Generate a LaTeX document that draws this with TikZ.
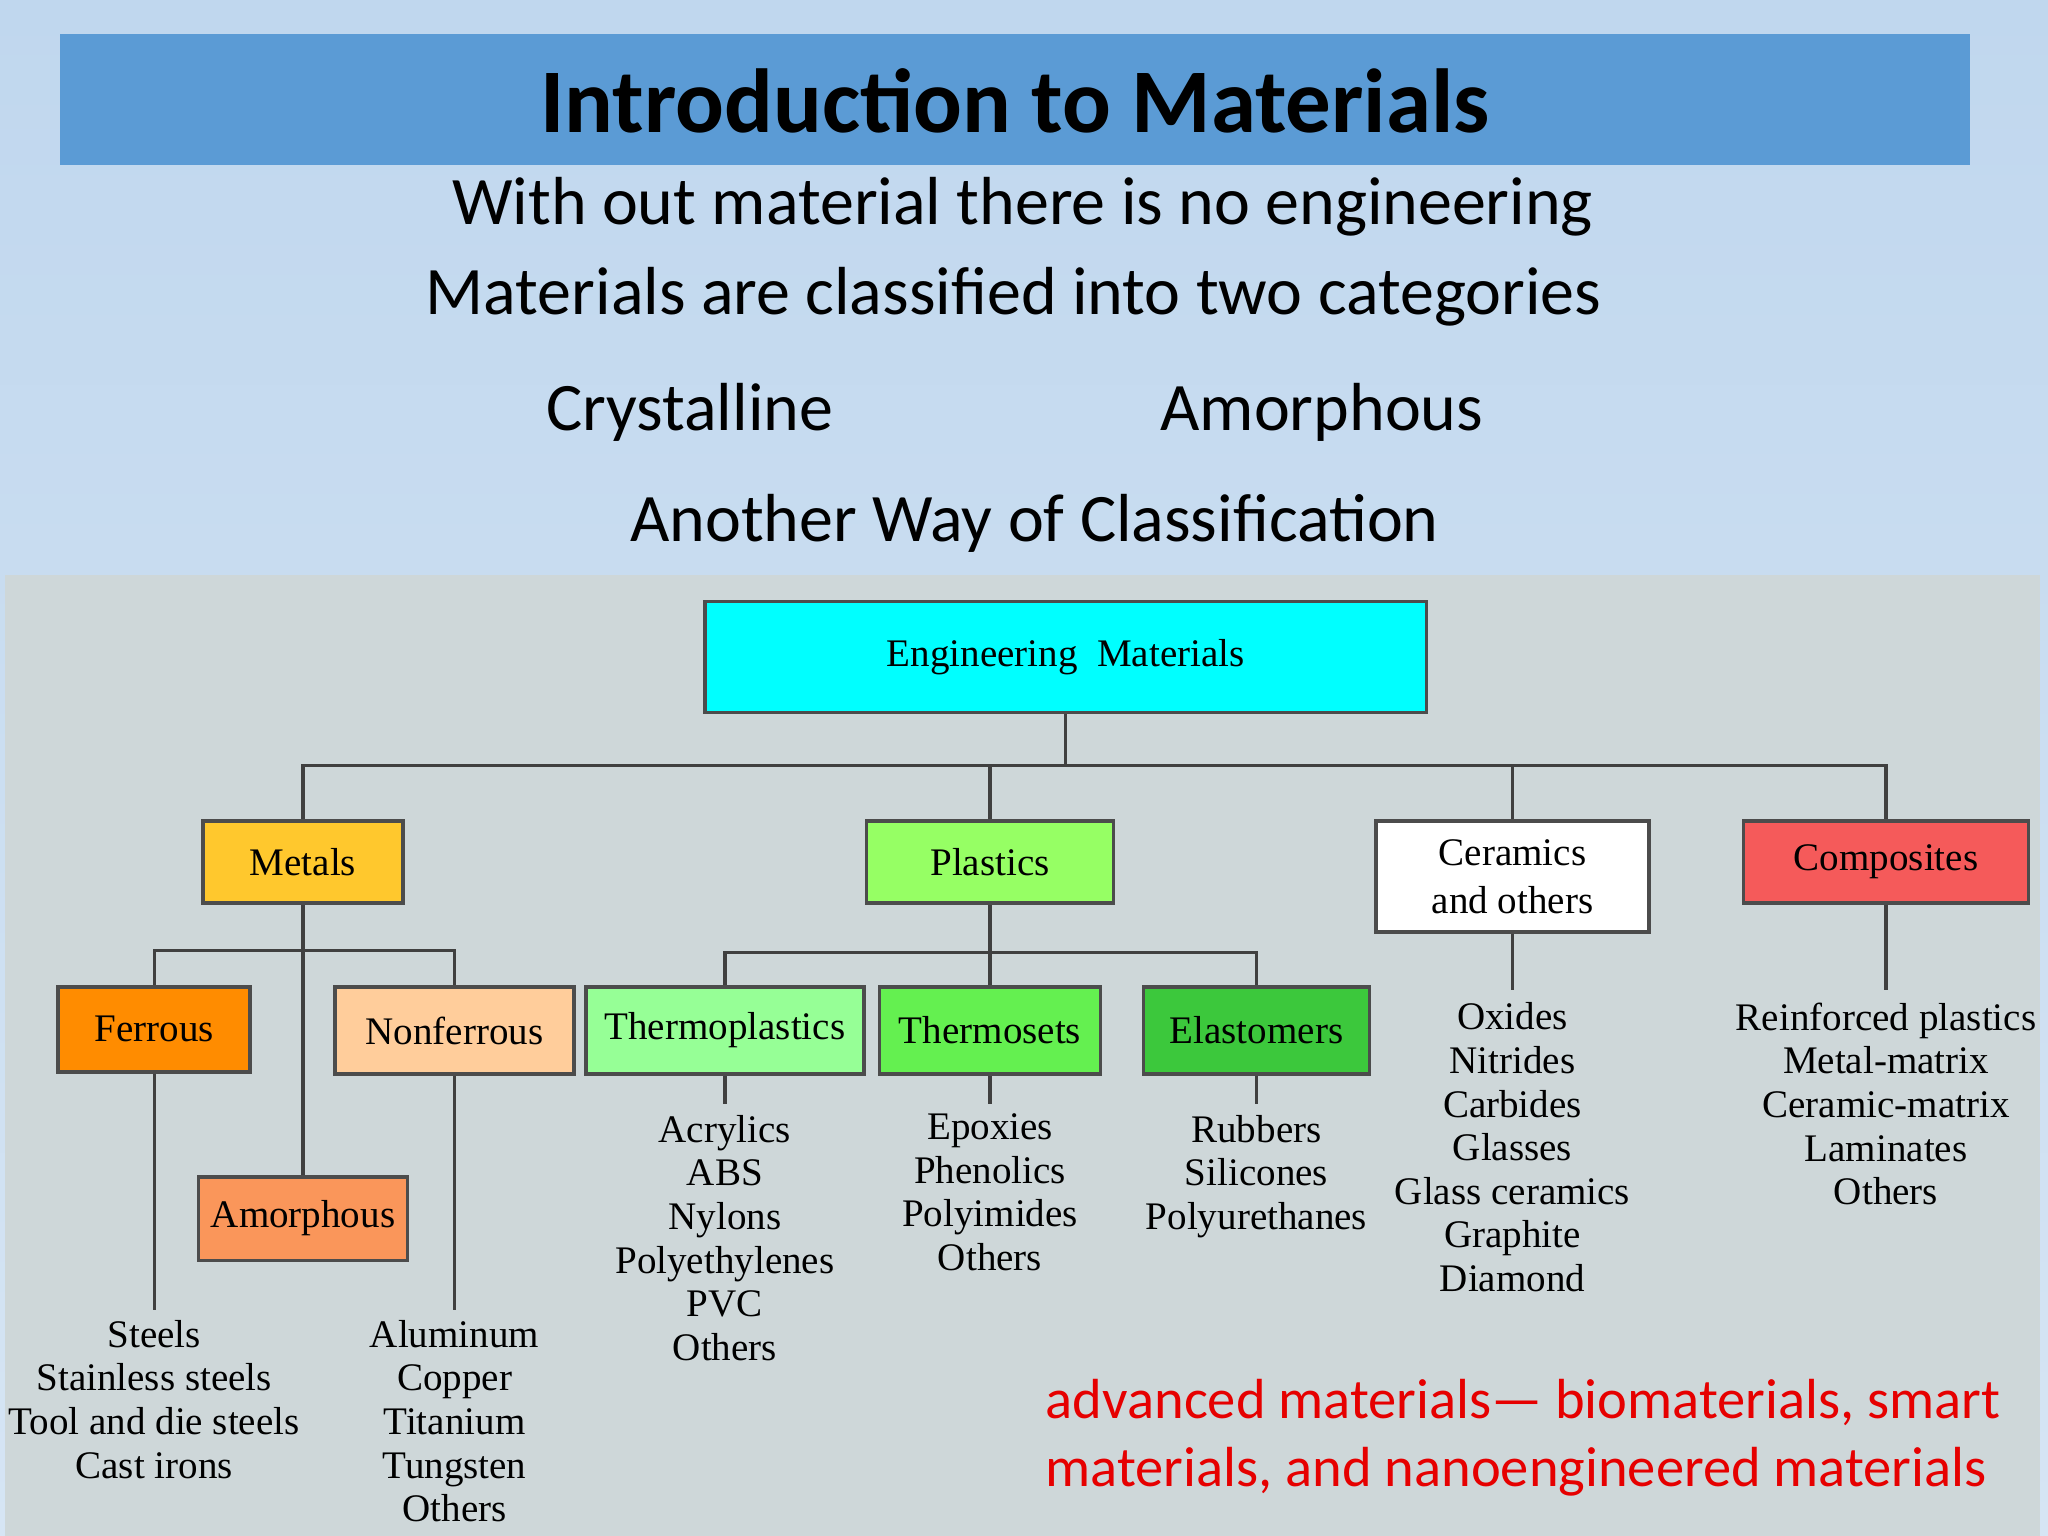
\documentclass[tikz,border=0pt]{standalone}
\usepackage{fontspec}
\setmainfont{Liberation Serif}
\newfontfamily\slidefont{Carlito}
\usetikzlibrary{positioning}
\definecolor{bgtop}{RGB}{192,215,238}
\definecolor{bgbot}{RGB}{214,229,244}
\definecolor{barblue}{RGB}{91,155,213}
\definecolor{panel}{RGB}{206,215,217}
\definecolor{cyanbox}{RGB}{0,255,255}
\definecolor{metalc}{RGB}{255,200,45}
\definecolor{plastc}{RGB}{150,255,100}
\definecolor{compc}{RGB}{245,90,90}
\definecolor{ferrc}{RGB}{255,140,0}
\definecolor{nonfc}{RGB}{255,205,155}
\definecolor{amorc}{RGB}{250,150,90}
\definecolor{thplc}{RGB}{150,255,150}
\definecolor{thsec}{RGB}{100,240,80}
\definecolor{elasc}{RGB}{60,200,60}
\definecolor{redtext}{RGB}{230,0,0}
\tikzset{
    box/.style={draw=black!70, line width=0.8pt, inner sep=0pt, align=center,
        font=\fontsize{8.5}{10.5}\selectfont},
    items/.style={anchor=north, inner sep=0pt, align=center,
        font=\fontsize{8.5}{9.5}\selectfont},
    link/.style={draw=black!75, line width=0.7pt},
    slide/.style={font=\slidefont\fontsize{14.8}{18}\selectfont},
}
\begin{document}
\begin{tikzpicture}[x=0.01cm, y=-0.01cm]
\shade[top color=bgtop, bottom color=bgbot] (0,0) rectangle (1568,1176);
\useasboundingbox (0,0) rectangle (1568,1176);
\fill[barblue] (46,26) rectangle (1508,126);
\node[font=\slidefont\bfseries\fontsize{19.8}{24}\selectfont] (title) at (777,77) {Introduction to Materials};
\node[slide] (line1) at (783,158) {With out material there is no engineering};
\node[slide] (line2) at (776,227) {Materials are classified into two categories};
\node[slide] (cryst) at (528,316) {Crystalline};
\node[slide] (amor) at (1012,316) {Amorphous};
\node[slide] (other) at (792,401) {Another Way of Classification};

\fill[panel] (4,440) rectangle (1562,1176);

% top level
\node[box, fill=cyanbox, minimum width=5.52cm, minimum height=0.85cm] (eng) at (816,503) {Engineering\ \ Materials};
\node[box, fill=metalc, minimum width=1.53cm, minimum height=0.63cm] (metals) at (232,660) {Metals};
\node[box, fill=plastc, minimum width=1.89cm, minimum height=0.63cm] (plastics) at (758,660) {Plastics};
\node[box, fill=white, minimum width=2.09cm, minimum height=0.85cm] (ceram) at (1158,671) {Ceramics\\and others};
\node[box, fill=compc, minimum width=2.18cm, minimum height=0.63cm] (compos) at (1444,660) {Composites};
\coordinate (top) at (816,586);
\draw[link] (eng.south) -- (top);
\draw[link] (metals.north) |- (top) -| (compos.north);
\draw[link] (plastics.north) |- (top);
\draw[link] (ceram.north) |- (top);

% metals
\node[box, fill=ferrc, minimum width=1.47cm, minimum height=0.65cm] (ferrous) at (118,788) {Ferrous};
\node[box, fill=nonfc, minimum width=1.83cm, minimum height=0.67cm] (nonferr) at (348,789) {Nonferrous};
\node[box, fill=amorc, minimum width=1.60cm, minimum height=0.64cm] (amorph) at (232,933) {Amorphous};
\coordinate (mbus) at (232,728);
\draw[link] (metals.south) -- (amorph.north);
\draw[link] (ferrous.north) |- (mbus) -| (nonferr.north);
\node[items] (steels) at (118,1010) {Steels\\Stainless steels\\Tool and die steels\\Cast irons};
\node[items] (nonlist) at (348,1010) {Aluminum\\Copper\\Titanium\\Tungsten\\Others};
\draw[link] (ferrous.south) -- (118,1003);
\draw[link] (nonferr.south) -- (348,1003);

% plastics
\node[box, fill=thplc, minimum width=2.13cm, minimum height=0.67cm] (thpl) at (555,789) {Thermoplastics};
\node[box, fill=thsec, minimum width=1.69cm, minimum height=0.67cm] (thse) at (758,789) {Thermosets};
\node[box, fill=elasc, minimum width=1.73cm, minimum height=0.67cm] (elas) at (962,789) {Elastomers};
\coordinate (pbus) at (758,729);
\draw[link] (plastics.south) -- (thse.north);
\draw[link] (thpl.north) |- (pbus) -| (elas.north);
\node[items] (thpllist) at (555,853) {Acrylics\\ABS\\Nylons\\Polyethylenes\\PVC\\Others};
\node[items] (thselist) at (758,852) {Epoxies\\Phenolics\\Polyimides\\Others};
\node[items] (elaslist) at (962,853) {Rubbers\\Silicones\\Polyurethanes};
\draw[link] (thpl.south) -- (555,845);
\draw[link] (thse.south) -- (758,845);
\draw[link] (elas.south) -- (962,845);

% ceramics and composites
\node[items] (cerlist) at (1158,767) {Oxides\\Nitrides\\Carbides\\Glasses\\Glass ceramics\\Graphite\\Diamond};
\node[items] (complist) at (1444,767) {Reinforced plastics\\Metal-matrix\\Ceramic-matrix\\Laminates\\Others};
\draw[link] (ceram.south) -- (1158,758);
\draw[link] (compos.south) -- (1444,758);

\node[anchor=west, inner sep=0pt, align=left, text=redtext, font=\slidefont\fontsize{12.3}{14.8}\selectfont] (adv) at (800,1101)
    {advanced materials— biomaterials, smart\\materials, and nanoengineered materials};
\end{tikzpicture}
\end{document}
